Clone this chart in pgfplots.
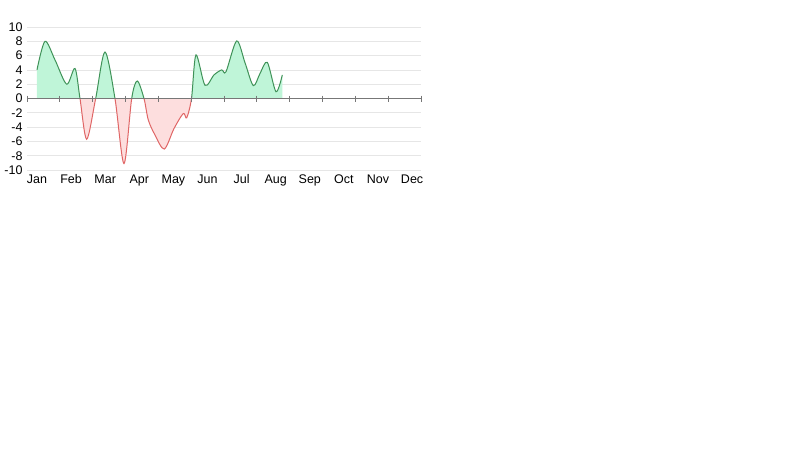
\documentclass[border=0pt]{standalone}
\usepackage{fontspec}
\setmainfont{Liberation Sans}
\usepackage{pgfplots}
\usepackage{pgfplotstable}
\pgfplotsset{compat=1.18}

\definecolor{gline}{HTML}{3F9258}
\definecolor{gfill}{HTML}{BFF5D8}
\definecolor{rline}{HTML}{E06666}
\definecolor{rfill}{HTML}{FDDEDE}
\definecolor{gridc}{HTML}{E6E6E6}
\definecolor{zeroc}{HTML}{777777}

% x in months (Jan = 0), y = value
\pgfplotstableread{
x      y
0.000  4.0
0.235  8.0
0.528  5.4
0.871  2.0
1.114  4.2
1.261  0.0
1.457 -5.7
1.721  0.0
1.994  6.5
2.287  0.0
2.551 -9.1
2.777  0.0
2.941  2.45
3.138  0.0
3.264 -3.0
3.460 -5.1
3.733 -7.07
4.018 -4.2
4.290 -2.1
4.390 -2.7
4.531  0.0
4.663  6.1
4.927  1.85
5.191  3.3
5.416  4.0
5.543  3.75
5.856  8.05
6.100  5.0
6.343  1.8
6.540  3.5
6.754  5.05
7.009  0.95
7.194  3.3
}\series

\begin{document}
\begin{tikzpicture}[x=1pt,y=1pt]
\useasboundingbox (0,0) rectangle (800,-450);
\begin{axis}[
    at={(27pt,-170pt)}, anchor=south west,
    scale only axis,
    width=394pt, height=143pt,
    xmin=-0.293, xmax=11.261,
    ymin=-10, ymax=10,
    ytick={-10,-8,...,10},
    xtick={0,...,11},
    xticklabels={Jan,Feb,Mar,Apr,May,Jun,Jul,Aug,Sep,Oct,Nov,Dec},
    axis line style={draw=none},
    major tick length=0pt,
    ymajorgrids=true,
    grid style={gridc, line width=0.8pt},
    tick label style={font=\fontsize{12.5}{15}\selectfont, black},
    yticklabel style={xshift=-1pt},
    xticklabel style={yshift=-1pt},
    /pgf/number format/assume math mode=true,
    clip=false,
]
\begin{scope}
  \clip (axis cs:-0.3,0) rectangle (axis cs:11.3,10.5);
  \addplot[draw=none, fill=gfill, smooth] table {\series} \closedcycle;
  \addplot[gline, line width=1pt, smooth] table {\series};
\end{scope}
\begin{scope}
  \clip (axis cs:-0.3,0) rectangle (axis cs:11.3,-10.5);
  \addplot[draw=none, fill=rfill, smooth] table {\series} \closedcycle;
  \addplot[rline, line width=1pt, smooth] table {\series};
\end{scope}
\addplot[zeroc, line width=1pt, mark=|, mark size=3pt,
  mark options={line width=0.8pt}]
  coordinates {(-0.293,0) (0.670,0) (1.632,0) (2.595,0) (3.558,0)
    (4.521,0) (5.483,0) (6.446,0) (7.409,0) (8.372,0) (9.334,0)
    (10.297,0) (11.260,0)};
\end{axis}
\end{tikzpicture}
\end{document}
